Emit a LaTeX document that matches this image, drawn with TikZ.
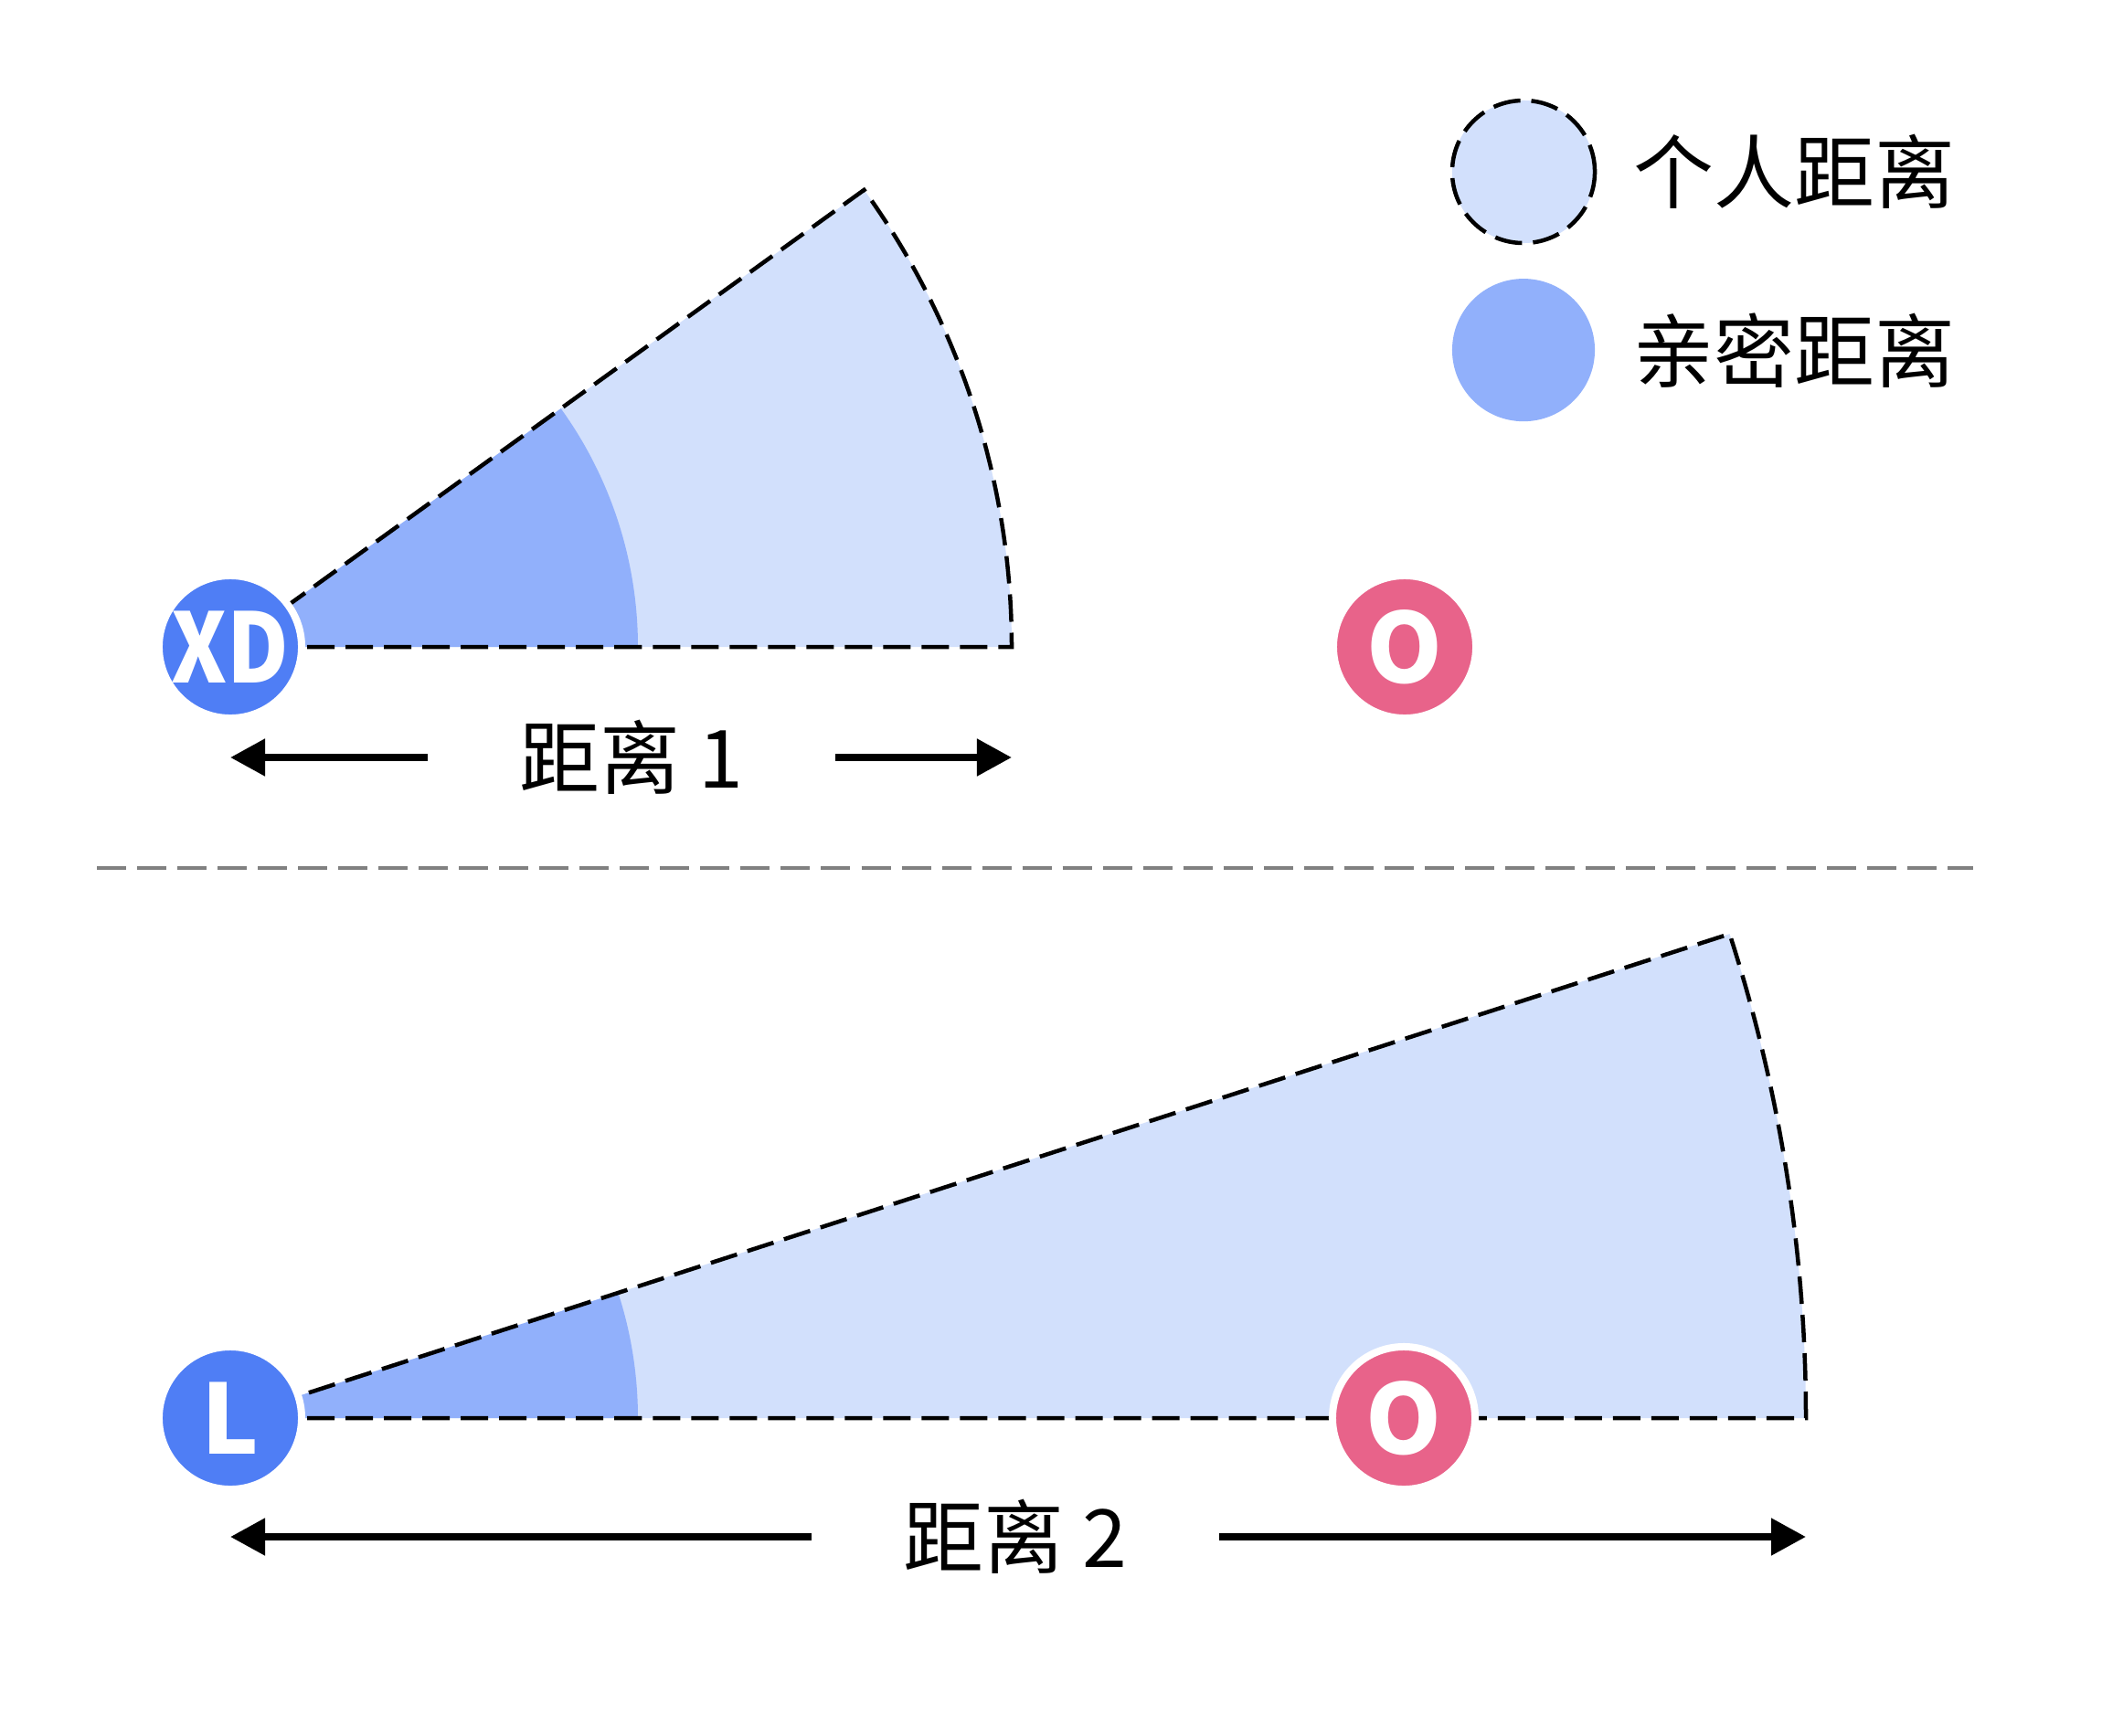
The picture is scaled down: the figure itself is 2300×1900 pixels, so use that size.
\documentclass[tikz,border=0pt]{standalone}
\usepackage{fontspec}
\usepackage{graphicx}
\setmainfont{Noto Sans CJK SC}
\usetikzlibrary{positioning,arrows.meta}

\definecolor{badgeblue}{HTML}{4F7EF5}
\definecolor{badgepink}{HTML}{E8638A}
\definecolor{farblue}{HTML}{D2E0FC}
\definecolor{nearblue}{HTML}{91B0FB}
\definecolor{dividergray}{HTML}{808080}

\begin{document}
\begin{tikzpicture}[
      x=0.01cm, y=0.01cm,
      every node/.style={font=\fontsize{25}{30}\selectfont},
      badge/.style={circle, minimum size=1.56cm, inner sep=0pt, draw=white, line width=0.08cm,
        text=white, font=\bfseries\fontsize{30}{34}\selectfont},
      legendmark/.style={circle, minimum size=1.56cm, inner sep=0pt, outer sep=0pt},
      zoneedge/.style={draw=black, line width=0.045cm, dash pattern=on 0.3cm off 0.12cm},
      farzone/.style={fill=farblue},
      nearzone/.style={fill=nearblue},
      dimarrow/.style={-{Triangle[length=0.38cm, width=0.39cm]}, line width=0.08cm},
      dimlabel/.style={minimum width=4.45cm, inner sep=0pt},
      divider/.style={draw=dividergray, line width=0.035cm, dash pattern=on 0.32cm off 0.12cm},
    ]
    \fill[white] (0,0) rectangle (2300,-1900);
    \useasboundingbox (0,0) rectangle (2300,-1900);

    % Upper case: XD and O
    \coordinate (apex1) at (252,-708);
    \fill[farzone] (apex1) -- ++(0:855) arc[start angle=0, end angle=35.8, radius=855] -- cycle;
    \fill[nearzone] (apex1) -- ++(0:446) arc[start angle=0, end angle=35.8, radius=446] -- cycle;
    \draw[zoneedge] (apex1) -- ++(0:855) arc[start angle=0, end angle=35.8, radius=855] -- cycle;
    \node[badge, fill=badgeblue] (xd) at (apex1) {\makebox[0pt]{\scalebox{0.88}[1]{XD}}};
    \node[badge, fill=badgepink] (otop) at (1537,-708) {\makebox[0pt]{O}};

    % Distance 1
    \node[dimlabel] (dist1) at (691,-829) {距离 1};
    \coordinate (d1left) at (252,-829);
    \coordinate (d1right) at (1107,-829);
    \draw[dimarrow] (dist1.west) -- (d1left);
    \draw[dimarrow] (dist1.east) -- (d1right);

    % Divider
    \coordinate (divl) at (106,-950);
    \coordinate (divr) at (2159,-950);
    \draw[divider] (divl) -- (divr);

    % Lower case: L and O
    \coordinate (apex2) at (252,-1552);
    \fill[farzone] (apex2) -- ++(0:1724) arc[start angle=0, end angle=17.9, radius=1724] -- cycle;
    \fill[nearzone] (apex2) -- ++(0:446) arc[start angle=0, end angle=17.9, radius=446] -- cycle;
    \draw[zoneedge] (apex2) -- ++(0:1724) arc[start angle=0, end angle=17.9, radius=1724] -- cycle;
    \node[badge, fill=badgeblue] (lnode) at (apex2) {\makebox[0pt]{L}};
    \node[badge, fill=badgepink] (obot) at (1536,-1552) {\makebox[0pt]{O}};

    % Distance 2
    \node[dimlabel] (dist2) at (1111,-1682) {距离 2};
    \coordinate (d2left) at (252,-1682);
    \coordinate (d2right) at (1976,-1682);
    \draw[dimarrow] (dist2.west) -- (d2left);
    \draw[dimarrow] (dist2.east) -- (d2right);

    % Legend
    \node[legendmark, farzone, zoneedge] (legfar) at (1667,-188) {};
    \node[legendmark, nearzone, below=0.39cm of legfar] (legnear) {};
    \node[inner sep=0pt, right=0.42cm of legfar] (legfartext) {个人距离};
    \node[inner sep=0pt, right=0.42cm of legnear] (legneartext) {亲密距离};
  \end{tikzpicture}
\end{document}
